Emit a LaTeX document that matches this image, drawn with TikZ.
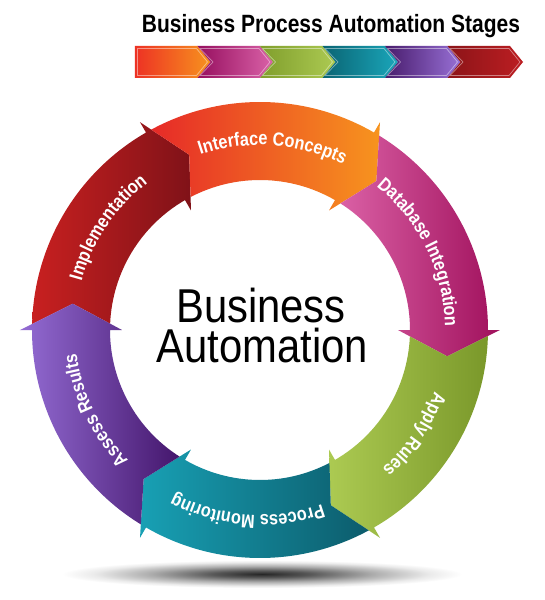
\documentclass[tikz,border=0pt]{standalone}
\usepackage{fontspec}
\usetikzlibrary{decorations.text}
\newfontfamily\titlefont[FakeStretch=0.84]{Liberation Sans}
\newfontfamily\centerfont[FakeStretch=0.88]{Liberation Sans}
\newfontfamily\ringfont[FakeStretch=0.86]{Liberation Sans}
% ring colours (left -> right)
\definecolor{impL}{RGB}{200,32,32}
\definecolor{impR}{RGB}{128,18,24}
\definecolor{intL}{RGB}{230,42,40}
\definecolor{intR}{RGB}{247,148,30}
\definecolor{datL}{RGB}{218,96,165}
\definecolor{datR}{RGB}{160,16,92}
\definecolor{appL}{RGB}{172,202,82}
\definecolor{appR}{RGB}{122,152,42}
\definecolor{proL}{RGB}{24,160,180}
\definecolor{proR}{RGB}{12,92,108}
\definecolor{assL}{RGB}{148,108,212}
\definecolor{assR}{RGB}{68,22,108}
% bar colours
\definecolor{b1L}{RGB}{237,50,36}
\definecolor{b1R}{RGB}{247,147,30}
\definecolor{b2L}{RGB}{150,15,95}
\definecolor{b2R}{RGB}{218,98,168}
\definecolor{b3L}{RGB}{128,158,44}
\definecolor{b3R}{RGB}{172,202,82}
\definecolor{b4L}{RGB}{10,100,115}
\definecolor{b4R}{RGB}{26,166,186}
\definecolor{b5L}{RGB}{72,28,108}
\definecolor{b5R}{RGB}{152,112,214}
\definecolor{b6L}{RGB}{140,20,24}
\definecolor{b6R}{RGB}{188,30,34}
\pgfdeclareradialshading{shadowshade}{\pgfpoint{0bp}{0bp}}{color(0bp)=(black!85); color(6bp)=(black!66); color(14bp)=(black!32); color(21bp)=(black!8); color(25bp)=(white); color(50bp)=(white)}
% ring segment: start angle, end angle, left colour, right colour
\newcommand\ringseg[4]{%
  \path[left color=#3, right color=#4]
    ({#1-1.51}:228) arc[start angle={#1-1.51}, end angle={#2}, radius=228]
    -- ({#2}:240) -- ({#2-8}:189) -- ({#2}:138) -- ({#2}:150)
    arc[start angle={#2}, end angle={#1-2.43}, radius=150]
    -- ({#1-8}:189) -- cycle;}
% curved white label: start angle, end angle, text
\newcommand\ringlabel[3]{%
  \path[decorate, decoration={text along path,
      text={|\ringfont\bfseries\fontsize{19}{19}\selectfont\color{white}|#3},
      text align=center}]
    ({#1+20}:185) arc[start angle={#1+20}, end angle={#2-20}, radius=185];}
% chevron of the top bar: index, left colour, right colour, notch depth
\newcommand\barchevron[4]{%
  \pgfmathsetmacro\chvT{-49.5+62.5*#1}
  \pgfmathsetmacro\chvS{\chvT-13}
  \pgfmathsetmacro\chvL{\chvS-62.5}
  \pgfmathsetmacro\chvN{\chvL+#4}
  \path[left color=#2, right color=#3]
    (\chvL,284) -- (\chvS,284) -- (\chvT,268) -- (\chvS,252) -- (\chvL,252) -- (\chvN,268) -- cycle;
  \draw[white, draw opacity=0.45, line width=0.7]
    ({\chvL+2.5},281.5) -- ({\chvS-1},281.5) -- ({\chvT-3},268) -- ({\chvS-1},254.5) -- ({\chvL+2.5},254.5) -- ({\chvN+2.5},268) -- cycle;}
\begin{document}
\begin{tikzpicture}[x=1pt,y=1pt]
\useasboundingbox[fill=white] (-260,-270) rectangle (284,330);

% title
\node[font=\titlefont\bfseries\fontsize{25}{25}\selectfont, anchor=base, inner sep=0pt] (title) at (71,297) {Business Process Automation Stages};

% top bar of chevrons
\barchevron{0}{b1L}{b1R}{0}
\barchevron{1}{b2L}{b2R}{13}
\barchevron{2}{b3L}{b3R}{13}
\barchevron{3}{b4L}{b4R}{13}
\barchevron{4}{b5L}{b5R}{13}
\barchevron{5}{b6L}{b6R}{13}

% shadow
\shade[shading=shadowshade] (2,-244) ellipse[x radius=200, y radius=14];

% ring
\ringseg{180}{120}{impL}{impR}
\ringseg{120}{60}{intL}{intR}
\ringseg{60}{0}{datL}{datR}
\ringseg{0}{-60}{appL}{appR}
\ringseg{-60}{-120}{proL}{proR}
\ringseg{-120}{-180}{assL}{assR}

\ringlabel{172}{120}{Implementation}
\ringlabel{112}{60}{Interface Concepts}
\ringlabel{52}{0}{Database Integration}
\ringlabel{-8}{-60}{Apply Rules}
\ringlabel{-68}{-120}{Process Monitoring}
\ringlabel{-128}{-180}{Assess Results}

% centre text
\node[font=\centerfont\fontsize{47.5}{47.5}\selectfont, anchor=base, inner sep=0pt] (biz) at (1,8) {Business};
\node[font=\centerfont\fontsize{47.5}{47.5}\selectfont, anchor=base, inner sep=0pt] (auto) at (2.5,-32) {Automation};
\end{tikzpicture}
\end{document}
